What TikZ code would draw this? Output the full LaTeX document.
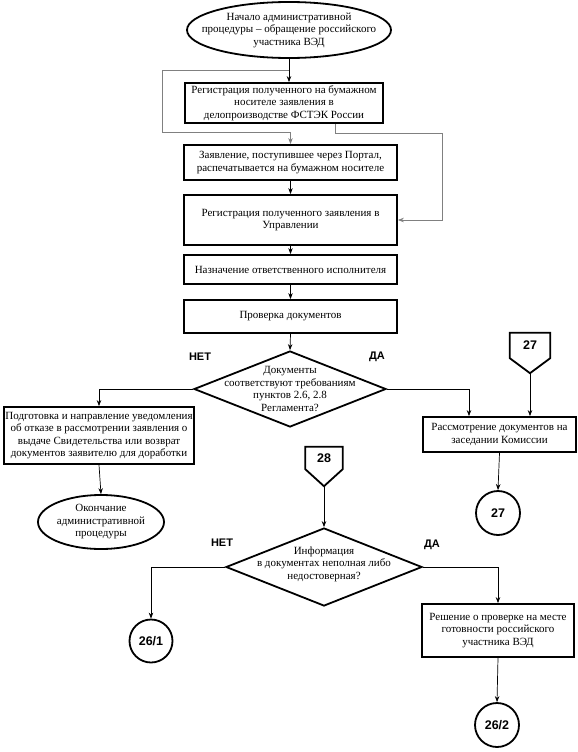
\documentclass[tikz,border=0pt]{standalone}
\usepackage{fontspec}
\setmainfont{Liberation Serif}
\newfontfamily\lsans{Liberation Sans}
\usetikzlibrary{arrows.meta,shapes.geometric,calc}
\begin{document}
\begin{tikzpicture}[x=1pt,y=-1pt,
  box/.style={draw,line width=1.8pt,align=center,font=\fontsize{11}{12.5}\selectfont,inner sep=1pt},
  shp/.style={draw,line width=1.8pt,inner sep=0pt},
  txt/.style={align=center,font=\fontsize{11}{12.5}\selectfont,inner sep=0pt},
  lbl/.style={font=\lsans\bfseries\fontsize{11}{12}\selectfont,inner sep=0pt},
  num/.style={font=\lsans\bfseries\fontsize{12.5}{13}\selectfont,inner sep=0pt},
  arr/.style={-{Stealth[length=6pt,width=4.5pt]},line width=0.7pt},
  arrg/.style={arr,draw=black!50}
]
\useasboundingbox (0,0) rectangle (578,752);

% start ellipse
\node[shp,ellipse,minimum width=204pt,minimum height=56pt] (st) at (289,30) {};
\node[txt] (stt) at (st) {Начало административной\\процедуры – обращение российского\\участника ВЭД};

% main boxes
\node[box,minimum width=198pt,minimum height=40pt] (b1) at (284,103)
  {Регистрация полученного на бумажном\\носителе заявления в\\делопроизводстве ФСТЭК России};
\node[box,minimum width=213pt,minimum height=35pt] (b2) at (290.5,162.5)
  {Заявление, поступившее через Портал,\\распечатывается на бумажном носителе};
\node[box,minimum width=213pt,minimum height=50pt] (b3) at (290.5,220)
  {Регистрация полученного заявления в\\Управлении};
\node[box,minimum width=213pt,minimum height=29pt] (b4) at (290.5,269.5)
  {Назначение ответственного исполнителя};
\node[box,minimum width=213pt,minimum height=33pt] (b5) at (290.5,316.5)
  {Проверка документов};

% decision 1
\node[shp,diamond,minimum width=192pt,minimum height=76pt] (d1) at (290,389) {};
\node[txt] (d1t) at (d1) {Документы\\соответствуют требованиям\\пунктов 2.6, 2.8\\Регламента?};
\node[lbl] (no1) at (200,357) {НЕТ};
\node[lbl] (yes1) at (377,357) {ДА};

% left branch
\node[box,minimum width=188pt,minimum height=57pt] (lb) at (99,435.5)
  {Подготовка и направление уведомления\\об отказе в рассмотрении заявления о\\выдаче Свидетельства или возврат\\документов заявителю для доработки};
\node[shp,ellipse,minimum width=126pt,minimum height=54pt] (en) at (101,522) {};
\node[txt] (ent) at (en) {Окончание\\административной\\процедуры};

% right branch
\node[box,minimum width=153pt,minimum height=35pt] (rb) at (499.5,434.5)
  {Рассмотрение документов на\\заседании Комиссии};
\node[num,minimum width=40pt,minimum height=25pt] (p27) at (530,345.5) {27};
\coordinate (p27t) at ($(p27.south)+(0,15)$);
\draw[line width=1.8pt,line join=miter] (p27.north west) -- (p27.north east) -- (p27.south east) -- (p27t) -- (p27.south west) -- cycle;
\node[shp,circle,minimum size=44pt,num] (c27) at (498,513) {27};

% connector 28
\node[num,minimum width=37pt,minimum height=22pt] (p28) at (324,458) {28};
\coordinate (p28t) at ($(p28.south)+(0,17)$);
\draw[line width=1.8pt,line join=miter] (p28.north west) -- (p28.north east) -- (p28.south east) -- (p28t) -- (p28.south west) -- cycle;

% decision 2
\node[shp,diamond,minimum width=196pt,minimum height=78pt] (d2) at (324,567) {};
\node[txt] (d2t) at ($(d2)+(0,-3)$) {Информация\\в документах неполная либо\\недостоверная?};
\node[lbl] (no2) at (222,543) {НЕТ};
\node[lbl] (yes2) at (432,545) {ДА};

\node[shp,circle,minimum size=43pt,num] (c261) at (151,641) {26/1};
\node[box,minimum width=152pt,minimum height=53pt] (rs) at (498,630.5)
  {Решение о проверке на месте\\готовности российского\\участника ВЭД};
\node[shp,circle,minimum size=44pt,num] (c262) at (497,725) {26/2};

% connectors
\coordinate (j1) at ($(st.south)+(0,11)$);
\draw[arr] (st.south) -- (st.south |- b1.north);
\draw[arrg] (j1) -- ++(-127,0) |- ($(b2.north)+(0,-12)$) -- (b2.north);
\draw[arrg] ([xshift=51pt]b1.south) |- (442,133) |- (b3.east);
\draw[arr] (b2.south) -- (b3.north);
\draw[arr] (b3.south) -- (b4.north);
\draw[arr] (b4.south) -- (b5.north);
\draw[arr] (b5.south) -- (d1.north);
\draw[arr] (d1.west) -| (lb.north);
\draw[arr] (d1.east) -| ([xshift=-30.5pt]rb.north);
\draw[arr] (p27t) -- (p27t |- rb.north);
\draw[arr] (rb.south) -- (c27.north);
\draw[arr] (lb.south) -- (en.north);
\draw[arr] (p28t) -- (d2.north);
\draw[arr] (d2.west) -| (c261.north);
\draw[arr] (d2.east) -| (rs.north);
\draw[arr] (rs.south) -- (c262.north);
\end{tikzpicture}
\end{document}
